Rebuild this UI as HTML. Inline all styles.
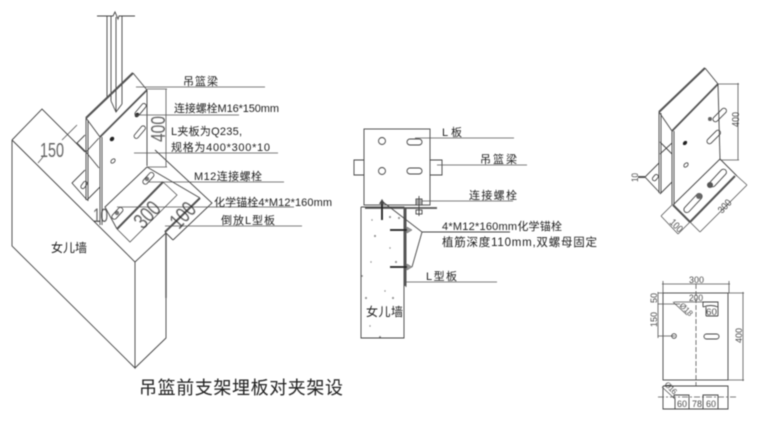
<!DOCTYPE html>
<html><head><meta charset="utf-8"><style>
html,body{margin:0;padding:0;background:#fff;width:760px;height:425px;overflow:hidden}
svg{display:block}
text{font-family:"Liberation Sans","Noto Sans CJK SC",sans-serif;fill:#222}
.l{fill:none;stroke:#444;stroke-width:.9}
.d{fill:none;stroke:#555;stroke-width:.8}
.t{fill:none;stroke:#555;stroke-width:2}
.k{fill:#222;stroke:none}
</style></head><body>
<svg width="760" height="425" viewBox="0 0 760 425" xmlns="http://www.w3.org/2000/svg">
<defs><filter id="b" x="-5%" y="-5%" width="110%" height="110%"><feGaussianBlur stdDeviation="0.45"/></filter></defs>
<g filter="url(#b)">
<!-- left: wall -->
<path class="l" d="M12 140 L42 109 L85 152 M12 140 V246 L135 368 V262 L12 140 M135 368 L166 338 V233 M135 262 L166 233"/>
<path class="t" d="M166 233 V298" style="stroke-width:1.400"/>
<!-- beam -->
<path class="l" d="M97 16 H113 L115 12 L118 19 L119 16 H135 M107 16 V97 M111 16 V101 M116 17 V112 M122 16 V104 M111 101 L116 112 L122 104"/>
<!-- L plate -->
<path class="t" d="M86 118 L133 73" style="stroke-width:2.200"/>
<path class="t" d="M100 137 L147 90" style="stroke-width:1.800"/>
<path class="l" d="M133 73 L147 90 M86 118 L100 137 M86 118 V200 M88 120 V201 M100 137 V225 M102 137 V225 M147 90 V166"/>
<path class="l" d="M86 152 L77 143 L85 135 M86 152 L99 138 M86 152 L99 168 M87 200 L72 183 L85 170 M87 200 L100 187"/>
<!-- holes -->
<ellipse cx="137" cy="115" rx="2.500" ry="2" class="k" transform="rotate(-45 137 115)"/>
<rect x="133" y="108" width="15" height="4.500" rx="2.200" class="l" transform="rotate(-50 140 110)"/>
<rect x="133" y="130" width="15" height="4.500" rx="2.200" class="l" transform="rotate(-50 140 133)"/>
<ellipse cx="112" cy="139" rx="2.500" ry="2" class="k" transform="rotate(-45 112 139)"/>
<ellipse cx="113" cy="161" rx="2.500" ry="1.700" class="l" transform="rotate(-45 113 161)"/>
<rect x="80" y="183" width="8" height="4" rx="2" class="l" transform="rotate(-55 84 185)"/>
<!-- base plate -->
<path class="l" d="M147 167 L105 207 L117 229 M147 167 L200 198 M155 150 L212 203 L173 240 M165 232 L173 240"/>
<path class="t" d="M117 229 L163 182 M165 232 L200 198"/>
<path class="d" d="M163 182 L177 195 L130 242 L117 229"/>
<rect x="141" y="176" width="14" height="5" rx="2.400" class="l" transform="rotate(-48 148 178)"/>
<circle cx="147" cy="179" r="2.200" class="k" opacity=".6"/>
<rect x="110" y="211" width="14" height="5" rx="2.400" class="l" transform="rotate(-48 117 213)"/>
<circle cx="117" cy="213" r="2.200" class="k" opacity=".6"/>
<!-- dims -->
<path class="d" d="M147 89 H167 M166 89 V167 M147 167 H167 M38 163 L43 157 M62 140 L77 125"/>
<!-- leaders -->
<path class="d" d="M136 87 H265 M135 115 H239 M134 153 H278 M148 182 H284 M117 207 H294 M165 226 H302"/>
<text x="183" y="85" font-size="11" textLength="35">吊篮梁</text>
<text x="174" y="112" font-size="11" textLength="105">连接螺栓M16*150mm</text>
<text x="171" y="135" font-size="11" textLength="71">L夹板为Q235,</text>
<text x="171" y="151" font-size="11" textLength="99">规格为400*300*10</text>
<text x="194" y="180" font-size="11" textLength="68">M12连接螺栓</text>
<text x="214" y="206" font-size="11" textLength="118">化学锚栓4*M12*160mm</text>
<text x="221" y="224" font-size="11" textLength="54">倒放L型板</text>
<text x="51" y="252" font-size="12" textLength="36">女儿墙</text>
<text x="139" y="394" font-size="18" textLength="204">吊篮前支架埋板对夹架设</text>
<g font-size="20" fill-opacity=".7">
<text x="40" y="157" textLength="24" lengthAdjust="spacingAndGlyphs">150</text>
<text transform="translate(165 142) rotate(-90)" textLength="26" lengthAdjust="spacingAndGlyphs">400</text>
<text transform="translate(143 230) rotate(-47)" font-size="22" textLength="28" lengthAdjust="spacingAndGlyphs">300</text>
<text transform="translate(179 230) rotate(-47)" font-size="22" textLength="27" lengthAdjust="spacingAndGlyphs">100</text>
<text x="93" y="222" font-size="19" textLength="15" lengthAdjust="spacingAndGlyphs">10</text>
</g>
<!-- middle -->
<rect class="l" x="364" y="129" width="66" height="76"/>
<path class="l" d="M364 160 H354 V175 H364 M430 160 H442 V175 H430"/>
<circle class="l" cx="382" cy="141" r="3.500"/><circle class="l" cx="382" cy="171" r="3.500"/>
<rect class="l" x="407" y="139" width="15" height="6" rx="3"/><rect class="l" x="407" y="168" width="15" height="6" rx="3"/>
<path class="l" d="M361 207 V338 H404 V207 H361"/>
<path class="t" d="M365 208 H437" style="stroke-width:1.800"/>
<path class="t" d="M405.500 208 V286" style="stroke-width:2"/>
<path class="d" d="M406 287 V282 H497 M415 138 H514 M437 165 H527 M419 201 H513"/>
<path class="l" d="M383 202 L422 232 L412 267 M422 232 H510"/>
<path d="M382 220 V204" stroke="#222" stroke-width="1.800"/><path d="M379 204 L382 199 L385 204Z" fill="#444"/>
<path d="M390 230 H407" stroke="#222" stroke-width="1.800"/><path d="M407 227 L412 230 L407 233Z" fill="#999" stroke="#555" stroke-width=".5"/>
<path d="M390 267 H407" stroke="#222" stroke-width="1.800"/><path d="M407 264 L412 267 L407 270Z" fill="#999" stroke="#555" stroke-width=".5"/>
<rect class="l" x="416" y="199" width="6" height="6" style="fill:#aaa"/><rect class="l" x="416" y="210" width="6" height="4"/>
<path class="l" d="M419 196 V216"/>
<g class="k" opacity=".55"><circle cx="372" cy="220" r=".7"/><circle cx="390" cy="217" r="1"/><circle cx="399" cy="218" r="1"/><circle cx="375" cy="236" r="1"/><circle cx="396" cy="262" r="1"/><circle cx="362" cy="276" r=".9"/><circle cx="385" cy="291" r=".7"/><circle cx="393" cy="298" r="1"/><circle cx="366" cy="298" r="1"/><circle cx="380" cy="337" r="1"/><circle cx="370" cy="326" r=".7"/><circle cx="390" cy="248" r=".7"/><circle cx="371" cy="262" r=".7"/></g>
<text x="442" y="136" font-size="11" textLength="20">L板</text>
<text x="480" y="163" font-size="11" textLength="37">吊篮梁</text>
<text x="469" y="199" font-size="11" textLength="48">连接螺栓</text>
<text x="442" y="230" font-size="11" textLength="120">4*M12*160mm化学锚栓</text>
<text x="442" y="246" font-size="11.500" textLength="155">植筋深度110mm,双螺母固定</text>
<text x="426" y="280" font-size="11" textLength="31">L型板</text>
<text x="366" y="316" font-size="12" textLength="37">女儿墙</text>
<!-- right top -->
<path class="t" d="M659 112 L705 68" style="stroke-width:2"/>
<path class="t" d="M672 131 L718 84" style="stroke-width:1.800"/>
<path class="l" d="M705 68 L718 84 M659 112 L672 131 M659 112 V193 M661 113 V193 M672 131 V205 M674 131 V205 M718 84 L720 159 M720 159 L737 176 M720 159 L673 205"/>
<path class="l" d="M660 142 L672 154 M660 154 L672 143 M660 193 L645 177 L659 163 M660 194 L672 182"/>
<path class="t" d="M690 222 L735 176 M673 205 L690 222"/>
<path class="d" d="M718 84 H739 M738 83 V160 M720 160 H739 M700 232 L747 185 M737 176 L747 185 M690 222 L700 232 M661 216 L678 234 M672 205 L661 216 M690 222 L678 234"/>
<path class="d" d="M638 177 H645" style="stroke-width:2"/>
<rect class="l" x="711" y="113" width="17" height="5" rx="2.500" transform="rotate(-45 719 115)"/>
<circle cx="710" cy="119" r="2" class="k" opacity=".7"/>
<rect class="l" x="705" y="135" width="17" height="5" rx="2.500" transform="rotate(-45 713 137)"/>
<ellipse class="k" cx="685" cy="143" rx="2.500" ry="1.800" transform="rotate(-45 685 143)"/>
<ellipse class="l" cx="686" cy="165" rx="2.500" ry="1.700" transform="rotate(-45 686 165)"/>
<rect class="l" x="681" y="200" width="24" height="6" rx="3" transform="rotate(-47 693 203)"/>
<rect class="l" x="707" y="175" width="22" height="6" rx="3" transform="rotate(-47 718 178)"/>
<circle cx="699" cy="196" r="3" fill="#666"/><circle cx="710" cy="185" r="3" fill="#555"/>
<rect class="l" x="652" y="176" width="7" height="4" rx="2" transform="rotate(-50 655 178)"/>
<g font-size="10" fill-opacity=".8">
<text transform="translate(739 127) rotate(-90)" textLength="15" lengthAdjust="spacingAndGlyphs">400</text>
<text transform="translate(722 214) rotate(-47)" textLength="15" lengthAdjust="spacingAndGlyphs">300</text>
<text transform="translate(669 223) rotate(45)" textLength="14" lengthAdjust="spacingAndGlyphs">100</text>
<text transform="translate(638 182) rotate(-90)" font-size="9" textLength="9" lengthAdjust="spacingAndGlyphs">10</text>
</g>
<!-- right bottom -->
<rect class="l" x="663" y="293" width="65" height="87"/>
<path class="l" d="M663 386 H728 V409 H663 V386"/>
<path class="d" d="M696 284 V386" stroke-dasharray="5 2"/>
<path class="d" d="M658 397 H737" stroke-dasharray="6 2 2 2"/>
<path class="d" d="M662 284 H730 M663 281 V293 M729 281 V293 M728 293 H744 M743 292 V381 M728 380 H744 M658 293 H668 M658 304 H680 M658 336 H675 M658 292 V338 M674 302 H704 M673 302 L687 315 M662 387 L675 399"/>
<circle class="l" cx="674" cy="336" r="2.300"/>
<rect class="l" x="704" y="334" width="15" height="5" rx="2.500"/>
<path class="l" d="M703 307 V302 H718 V307 Q711 304 703 307 M703 398 V395 H718 V398 M674 398 V395 H689 V398 M675 398 V409 M689 398 V409 M703 398 V409 M718 398 V409 M706 307 V316 M718 307 V316 M706 316 H718"/>
<g font-size="9.500" fill-opacity=".8">
<text x="689" y="283" textLength="15" lengthAdjust="spacingAndGlyphs">300</text>
<text x="689" y="301" textLength="14" lengthAdjust="spacingAndGlyphs">200</text>
<text x="706" y="315" textLength="11" lengthAdjust="spacingAndGlyphs">60</text>
<text x="677" y="407" textLength="10" lengthAdjust="spacingAndGlyphs">60</text>
<text x="692" y="407" textLength="10" lengthAdjust="spacingAndGlyphs">78</text>
<text x="706" y="407" textLength="10" lengthAdjust="spacingAndGlyphs">60</text>
<text transform="translate(657 303) rotate(-90)" textLength="10" lengthAdjust="spacingAndGlyphs">50</text>
<text transform="translate(657 327) rotate(-90)" textLength="15" lengthAdjust="spacingAndGlyphs">150</text>
<text transform="translate(742 343) rotate(-90)" textLength="15" lengthAdjust="spacingAndGlyphs">400</text>
<text transform="translate(679 306) rotate(45)" font-size="8" textLength="15">Ø18</text>
<text transform="translate(664 385) rotate(45)" font-size="8" textLength="14">Ø16</text>
</g>
</g>
</svg>
</body></html>
